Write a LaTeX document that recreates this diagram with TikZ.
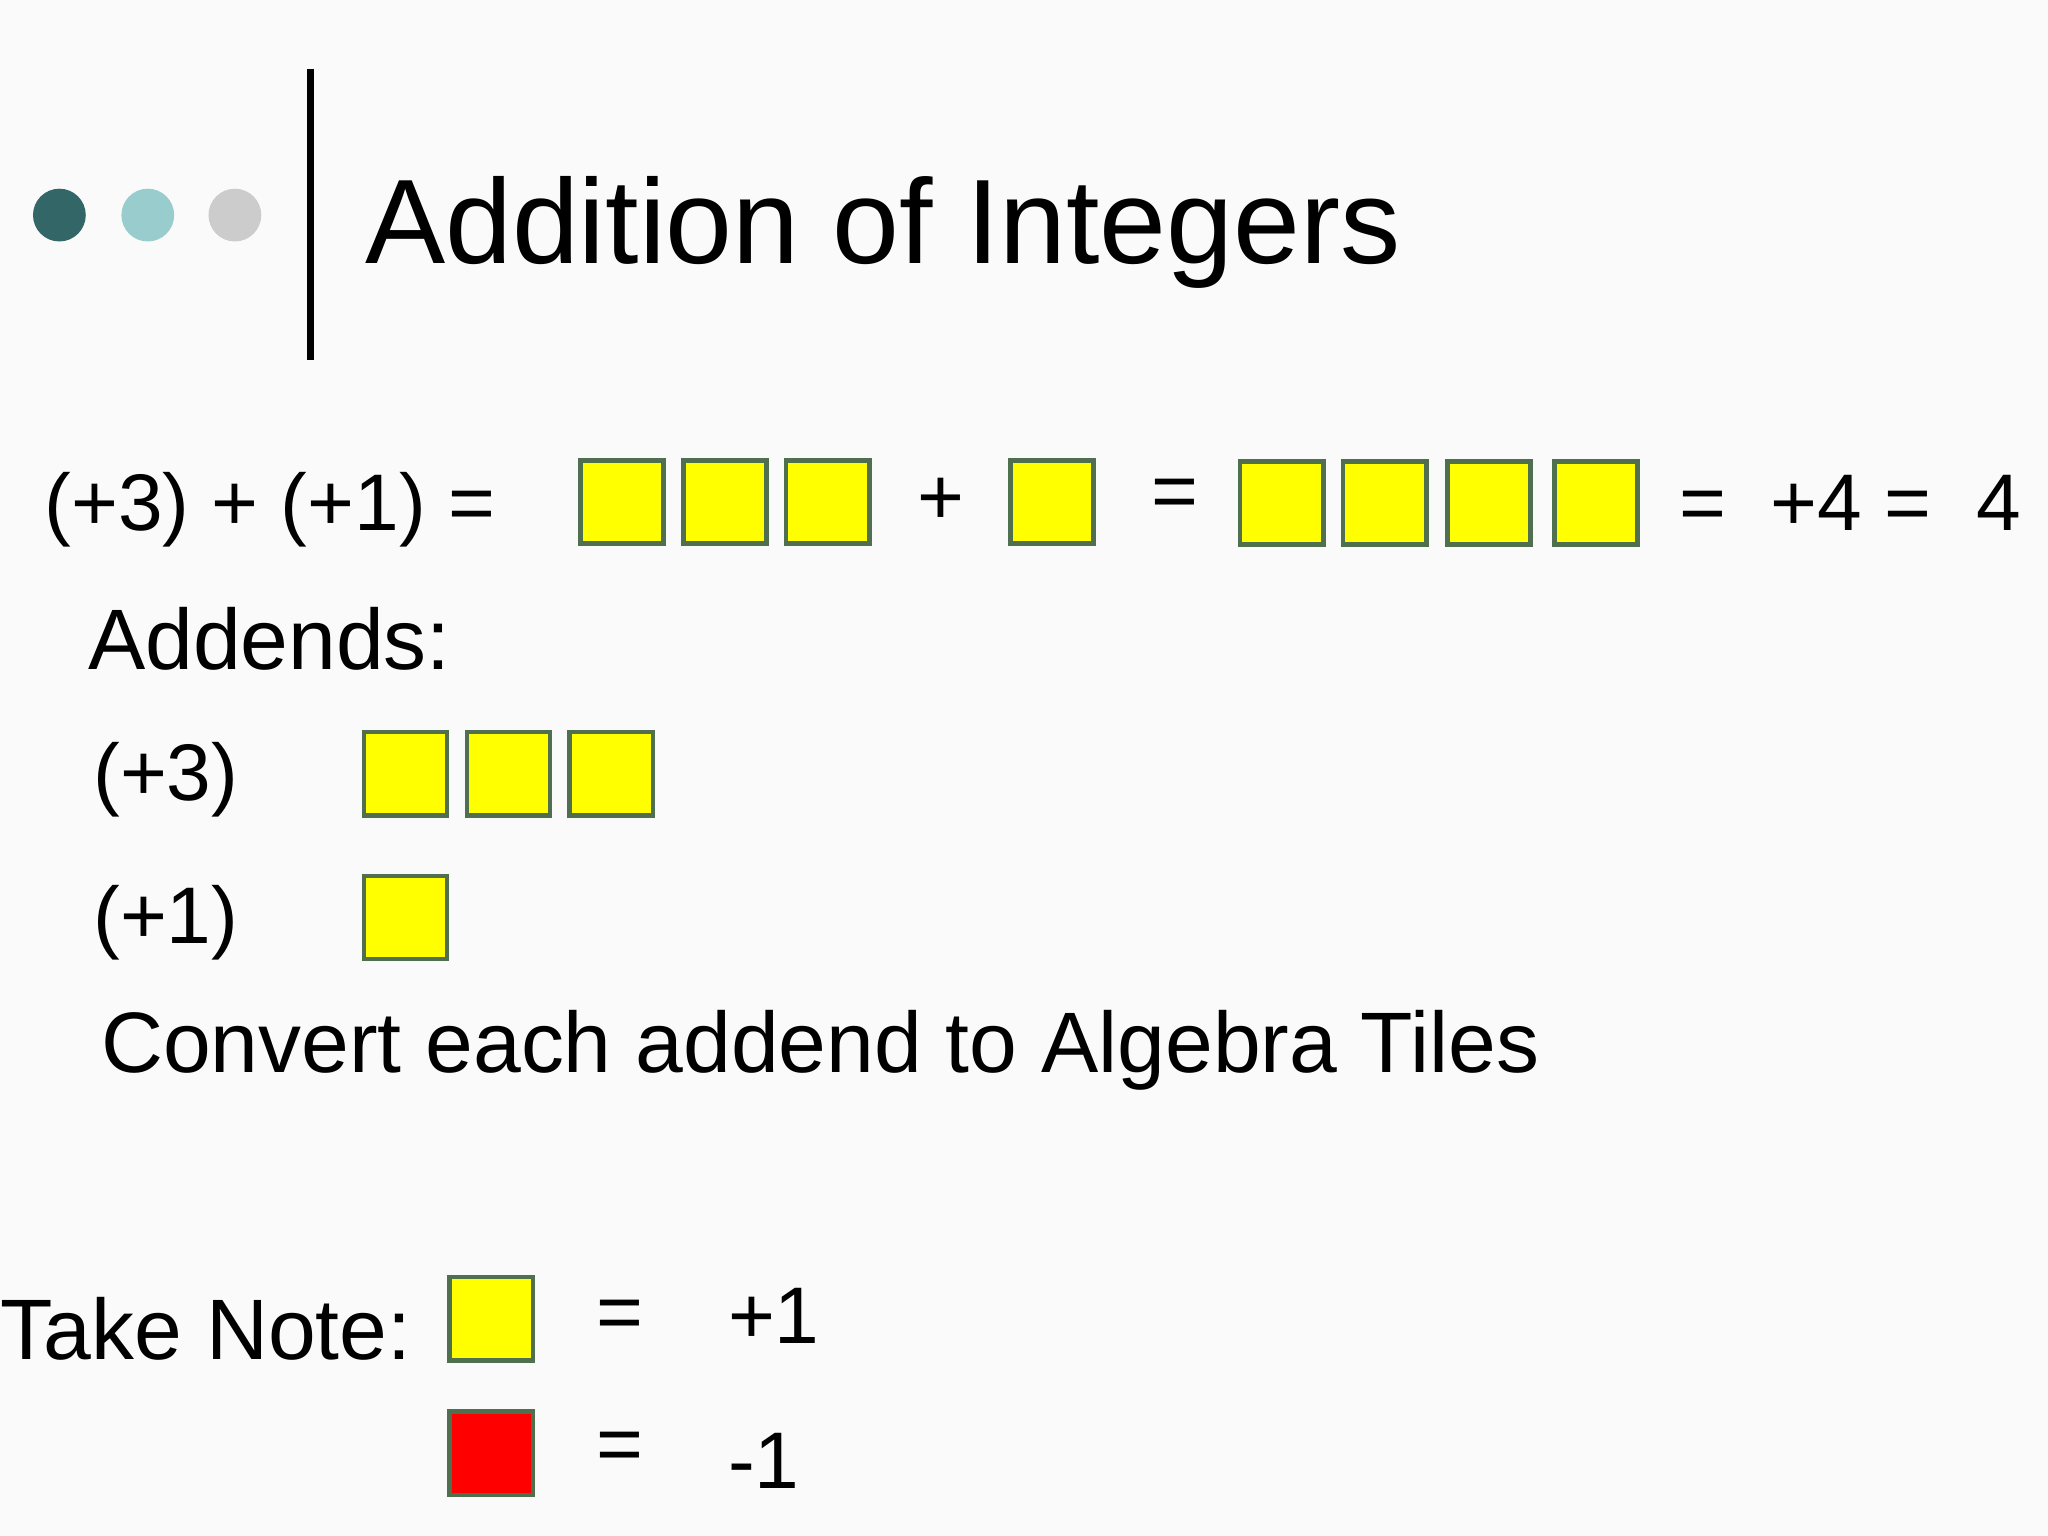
\documentclass[tikz,border=0pt]{standalone}
\usepackage{fontspec}
\setmainfont{Liberation Sans}
\definecolor{tileedge}{HTML}{4F6F4F}
\definecolor{dotA}{HTML}{336666}
\definecolor{dotB}{HTML}{99CCCC}
\definecolor{dotC}{HTML}{CCCCCC}
\definecolor{tyel}{HTML}{FFFF00}
\begin{document}
\begin{tikzpicture}[x=0.01cm,y=-0.01cm,
  tile/.style={draw=tileedge,line width=1pt,fill=tyel,minimum size=0.63cm,inner sep=0,anchor=north west},
  rtile/.style={tile,fill=red},
  txt/.style={anchor=base west,inner sep=0,font=\fontsize{17.3}{20}\selectfont},
  sym/.style={inner sep=0,font=\fontsize{17.3}{20}\selectfont}]
\fill[white!98!black] (0,0) rectangle (1552,1164);
\useasboundingbox (0,0) rectangle (1552,1164);
\fill[dotA] (45,163) circle (20);
\fill[dotB] (112,163) circle (20);
\fill[dotC] (178,163) circle (20);
\draw[line width=1.5pt] (235,52) -- (235,273);
\node[txt,font=\fontsize{25.9}{30}\selectfont] (title) at (276,200) {Addition of Integers};
\node[txt] (eq) at (33,402) {(+3) + (+1) =};
\node[tile] (a1) at (438,347) {}; \node[tile] (a2) at (516,347) {}; \node[tile] (a3) at (594,347) {};
\node[sym] (p) at (713,380) {+};
\node[tile] (b1) at (764,347) {};
\node[sym] (e1) at (890,378) {=};
\node[tile] (c1) at (938,348) {}; \node[tile] (c2) at (1016,348) {}; \node[tile] (c3) at (1095,348) {}; \node[tile] (c4) at (1176,348) {};
\node[txt] (res) at (1272,402) {=\ \ +4 =\ \ 4};
\node[txt,font=\fontsize{18.5}{21}\selectfont] (add) at (66,507) {Addends:};
\node[txt] (t3) at (70,607) {(+3)};
\node[tile] (d1) at (274,553) {}; \node[tile] (d2) at (352,553) {}; \node[tile] (d3) at (430,553) {};
\node[txt] (t1) at (70,715) {(+1)};
\node[tile] (f1) at (274,662) {};
\node[txt,font=\fontsize{18.5}{21}\selectfont] (conv) at (76,813) {Convert each addend to Algebra Tiles};
\node[txt,font=\fontsize{18.5}{21}\selectfont] (tn) at (0,1030) {Take Note:};
\node[tile] (g1) at (339,966) {};
\node[sym] (e2) at (470,1000) {=};
\node[txt] (p1) at (551,1018) {+1};
\node[rtile] (r1) at (339,1068) {};
\node[sym] (e3) at (470,1100) {=};
\node[txt] (m1) at (551,1128) {-1};
\end{tikzpicture}
\end{document}
